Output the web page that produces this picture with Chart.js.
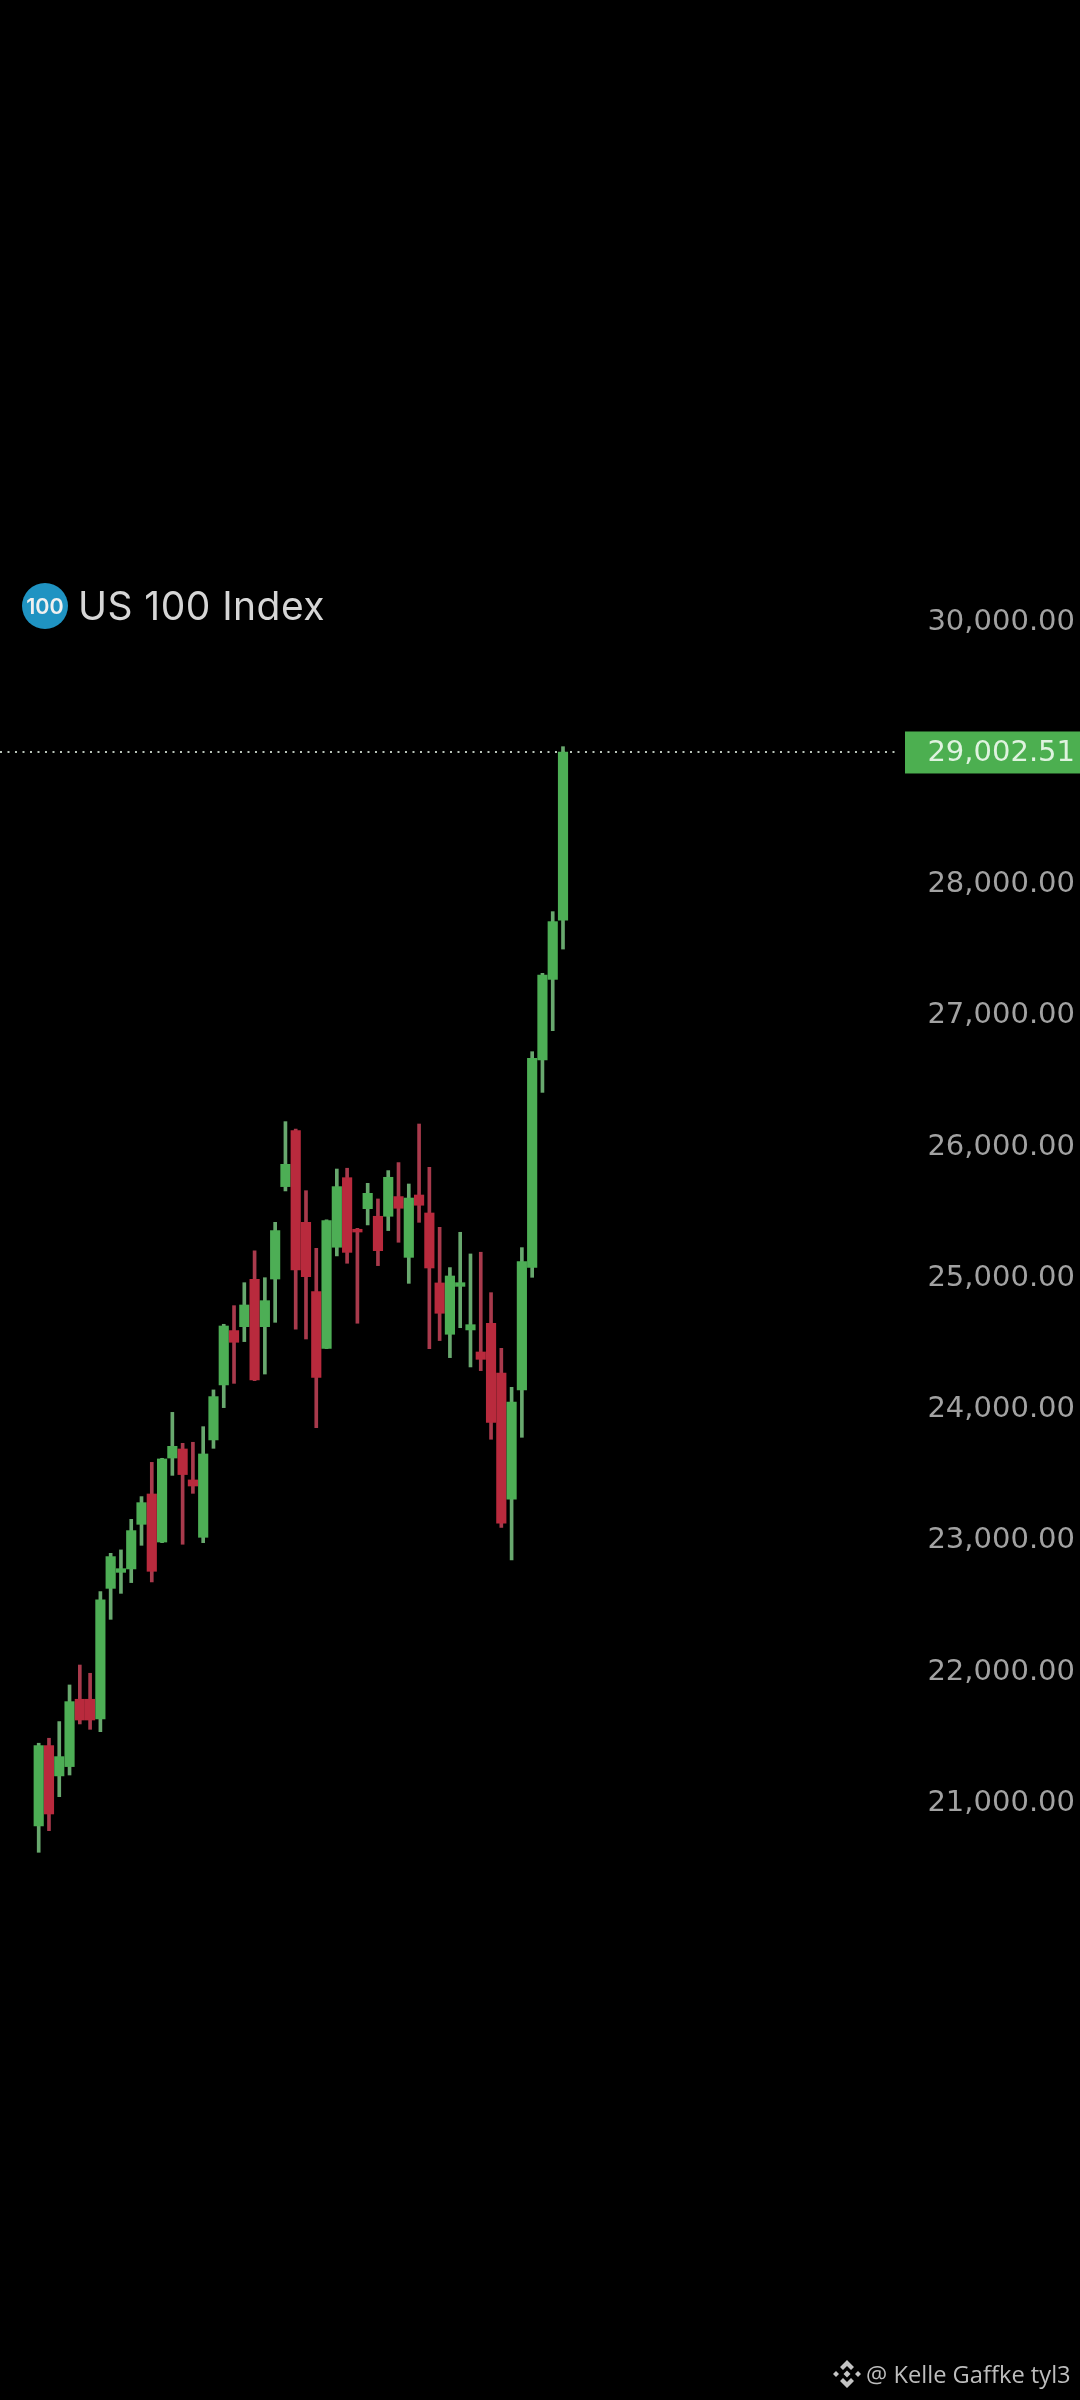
<!DOCTYPE html>
<html>
<head>
<meta charset="utf-8">
<title>US 100 Index</title>
<script src="https://cdn.jsdelivr.net/npm/chart.js@4/dist/chart.umd.min.js"></script>
<style>
  html, body { margin: 0; padding: 0; background: #000; }
  #tela { position: relative; width: 1080px; height: 2400px; overflow: hidden; background: #000; }
  #tela canvas { display: block; }
  .selo { position: absolute; left: 22px; top: 583px; width: 46px; height: 46px; border-radius: 50%; background: #1f93c2;
    color: #f0f0f0; font: 600 21.5px Inter, sans-serif; line-height: 46px; text-align: center; }
  .titulo { position: absolute; left: 78px; top: 581px; color: #d6d6d6; font: 400 39px/50px Inter, sans-serif; letter-spacing: 0.45px; white-space: nowrap; }
  .marca { position: absolute; left: 866px; top: 2358px; color: #bdbdbd; font: 400 23.7px/32px "Open Sans", sans-serif; white-space: nowrap; }
  .marca-icone { position: absolute; left: 832px; top: 2359px; width: 30px; height: 30px; }
</style>
</head>
<body>
<div id="tela">
  <canvas id="grafico"></canvas>
  <div class="selo">100</div>
  <div class="titulo">US 100 Index</div>
  <svg class="marca-icone" viewBox="0 0 30 30" fill="#c4c4c4">
    <path d="M15 1l7 7-3 3-4-4-4 4-3-3z"/>
    <path d="M15 29l7-7-3-3-4 4-4-4-3 3z"/>
    <path d="M1 15l3-3 3 3-3 3z"/><path d="M23 15l3-3 3 3-3 3z"/><path d="M11.5 15l3.5-3.5 3.5 3.5-3.5 3.5z"/>
  </svg>
  <div class="marca">@ Kelle Gaffke tyl3</div>
</div>

<script>
// valores
const candles = ["1","2","3","4","5","6","7","8","9","10","11","12","13","14","15","16","17","18","19","20","21","22","23","24","25","26",
  "27","28","29","30","31","32","33","34","35","36","37","38","39","40","41","42","43","44","45","46","47","48","49","50","51","52"];
const aberturas = [20820,21432,21201,21272,21785,21785,21635,22630,22752,22778,23118,23349,22983,23623,23692,23456,23019,
  23761,24180,24594,24624,24985,24624,24987,25691,26117,25419,24891,24459,25229,25759,25366,25523,25465,25465,25615,25152,25627,25490,24957,
  24566,24931,24599,24431,24650,24271,23309,24142,25076,26656,27270,27722];
const maximos = [21450,21488,21615,21894,22046,21983,22605,22897,22923,23156,23329,23590,23621,23971,23735,23743,23862,
  24142,24642,24784,24959,25201,24997,25419,26186,26130,25660,25221,25437,25825,25831,25373,25716,25597,25813,25874,25711,26168,25838,25381,
  25074,25343,25178,25191,24883,24459,24162,25226,26719,27316,27786,29043];
const minimos = [20619,20784,21043,21208,21597,21556,21538,22394,22592,22674,22958,22679,22978,23491,22966,23354,22978,
  23697,24007,24192,24510,24213,24263,24657,25658,24604,24530,23855,24456,25163,25107,24650,25399,25089,25356,25267,24954,25419,24456,24518,
  24388,24616,24317,24289,23766,23095,22846,23781,25000,26409,26879,27501];
const fechamentos = [21432,20911,21348,21767,21627,21627,22542,22872,22780,23070,23283,22760,23616,23712,23497,23410,23654,
  24091,24629,24505,24789,24218,24822,25356,25861,25056,25005,24238,25432,25691,25190,25345,25640,25203,25762,25526,25604,25549,25071,24726,
  25010,24959,24639,24375,23895,23126,24050,25119,26669,27303,27710,29002.51];
const ticksEixo = [21000,22000,23000,24000,25000,26000,27000,28000,30000];
const precoAtual = 29002.51;

const verde = "#4dae55";
const vermelho = "#b92a3d";
const verdePavio = "#68a86e";
const vermelhoPavio = "#a83a4c";
const fonteEixo = '400 29px "DejaVu Sans", sans-serif';

function formatar(v) {
  return v.toLocaleString("en-US", { minimumFractionDigits: 2, maximumFractionDigits: 2 });
}

const alta = fechamentos.map((c, i) => c >= aberturas[i]);
const pavios = candles.map((_, i) => [minimos[i], maximos[i]]);
const corpos = candles.map((_, i) => [aberturas[i], fechamentos[i]]);

// linha pontilhada e etiqueta do preco atual
const linhaPreco = {
  id: "linhaPreco",
  beforeDatasetsDraw(chart) {
    const y = chart.scales.y.getPixelForValue(precoAtual);
    const ctx = chart.ctx;
    ctx.save();
    ctx.strokeStyle = "#b9c4b9";
    ctx.lineWidth = 2;
    ctx.setLineDash([2, 5.5]);
    ctx.beginPath();
    ctx.moveTo(0, y);
    ctx.lineTo(899, y);
    ctx.stroke();
    ctx.restore();
  },
  afterDraw(chart) {
    const y = chart.scales.y.getPixelForValue(precoAtual);
    const ctx = chart.ctx;
    ctx.save();
    ctx.fillStyle = "#4caf50";
    ctx.fillRect(905, y - 20.5, 175, 42);
    ctx.fillStyle = "#dff3df";
    ctx.font = fonteEixo;
    ctx.textAlign = "right";
    ctx.textBaseline = "middle";
    ctx.fillText(formatar(precoAtual), 1075, y + 1.5);
    ctx.restore();
  },
};

new Chart(document.getElementById("grafico"), {
  type: "bar",
  data: {
    labels: candles,
    datasets: [
      { label: "Corpo", data: corpos, backgroundColor: alta.map(a => (a ? verde : vermelho)), barThickness: 9.5, grouped: false, clip: false, borderSkipped: false },
      { label: "Pavio", data: pavios, backgroundColor: alta.map(a => (a ? verdePavio : vermelhoPavio)), barThickness: 3, grouped: false, clip: false, borderSkipped: false },
    ],
  },
  plugins: [linhaPreco],
  options: {
    responsive: true,
    maintainAspectRatio: false,
    animation: false,
    layout: { padding: { left: 38.7, right: 5, top: 0, bottom: 0 } },
    plugins: { legend: { display: false }, tooltip: { enabled: false }, title: { display: false } },
    scales: {
      x: { display: false, offset: false, grid: { display: false } },
      y: {
        position: "right",
        min: 16446,
        max: 34732,
        grid: { display: false, drawTicks: false },
        border: { display: false },
        afterBuildTicks(scale) {
          scale.ticks = ticksEixo.map(v => ({ value: v }));
        },
        afterFit(scale) {
          scale.width = 512;
          scale.paddingTop = 0;
          scale.paddingBottom = 0;
        },
        ticks: {
          color: "#a2a2a2",
          font: { family: '"DejaVu Sans", sans-serif', size: 29 },
          crossAlign: "far",
          labelOffset: 1,
          autoSkip: false,
          callback: v => formatar(v),
        },
      },
    },
  },
});
</script>
</body>
</html>
